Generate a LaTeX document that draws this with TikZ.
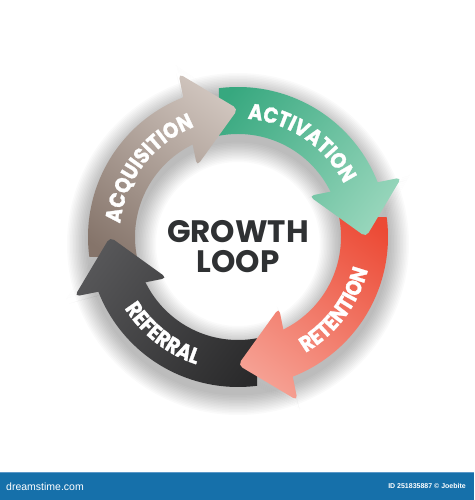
\documentclass[tikz,border=0pt]{standalone}
\usepackage{fontspec}
\setmainfont{Poppins}
\newfontfamily\ringfont{Poppins}[FakeStretch=0.88, FakeBold=1.2]
\newfontfamily\barfont{Liberation Sans}
\usetikzlibrary{decorations.text}
\definecolor{acqT}{HTML}{85746A}
\definecolor{acqH}{HTML}{D2C7C0}
\definecolor{actT}{HTML}{37A87F}
\definecolor{actH}{HTML}{9AD7BD}
\definecolor{retT}{HTML}{EC4A35}
\definecolor{retH}{HTML}{F6A396}
\definecolor{refT}{HTML}{2A2A2B}
\definecolor{refH}{HTML}{58585A}
\definecolor{titlegray}{HTML}{2F3133}
\definecolor{barblue}{HTML}{1670AA}
\definecolor{barline}{HTML}{5B98C8}
\tikzset{
  ringtext/.style={decorate, decoration={text along path, text align=center,
    text={|\color{white}\ringfont\bfseries\fontsize{22}{22}\selectfont|#1}}},
}
\begin{document}
\begin{tikzpicture}[x=1pt,y=1pt]
\useasboundingbox (0,0) rectangle (474,500);
\fill[white] (0,0) rectangle (474,500);
\begin{scope}[shift={(238,263)}]
  % soft drop shadow of the ring
  \foreach \i in {1,...,14} {
    \fill[black, opacity=0.018, even odd rule] (0,-7) circle[radius=150+\i*1.5] (0,-7) circle[radius=103-\i*1.5];
  }
  % shadow of the arrow heads
  \foreach \t in {90,0,-90,180} {
    \foreach \i in {1,...,6} {
      \fill[black, opacity=0.03, rounded corners=5pt] (\t:128+\i) ++(0,-5) -- (\t+20:174+\i*1.5) ++(0,-5) -- (\t+30:82-\i) -- cycle;
    }
  }
  % bands
  \foreach \t/\ct/\ch in {90/acqT/acqH, 0/actT/actH, -90/retT/retH, 180/refT/refH} {
    \begin{scope}
      \clip (\t+106:150) arc[start angle=\t+106, end angle=\t+14, radius=150]
        -- (\t+20:103) arc[start angle=\t+20, end angle=\t+112, radius=103] -- cycle;
      \shade[bottom color=\ct, top color=\ch, shading angle=\t-127] (\t+50:126) ++(-100,-100) rectangle ++(200,200);
    \end{scope}
  }
  % arrow heads
  \foreach \t/\ct/\ch in {90/acqT/acqH, 0/actT/actH, -90/retT/retH, 180/refT/refH} {
    \begin{scope}
      \clip[rounded corners=5pt] (\t:128) -- (\t+20:174) -- (\t+30:82) -- cycle;
      \shade[bottom color=\ct, top color=\ch, shading angle=\t-127] (\t+50:126) ++(-100,-100) rectangle ++(200,200);
    \end{scope}
  }
  % labels
  \path[ringtext=ACQUISITION] (190:118.5) arc[start angle=190, end angle=95, radius=118.5];
  \path[ringtext=ACTIVATION] (100:118.5) arc[start angle=100, end angle=12, radius=118.5];
  \path[ringtext=RETENTION] (-80:134) arc[start angle=-80, end angle=6, radius=134];
  \path[ringtext=REFERRAL] (189:134) arc[start angle=189, end angle=275, radius=134];
  \node[font=\bfseries\fontsize{31}{30}\selectfont, text=titlegray, align=center] (title) at (0,-10) {GROWTH\\LOOP};
\end{scope}
\fill[barblue] (0,0) rectangle (474,27);
\fill[barline] (0,27) rectangle (474,28);
\node[anchor=west, text=white, font=\barfont\fontsize{10.5}{10.5}\selectfont, inner sep=0pt] (dt) at (6,13) {dreamstime.com};
\node[anchor=east, text=white, font=\barfont\bfseries\fontsize{7}{7}\selectfont, inner sep=0pt] (id) at (466,14) {ID 251835887 © Joebite};
\end{tikzpicture}
\end{document}
